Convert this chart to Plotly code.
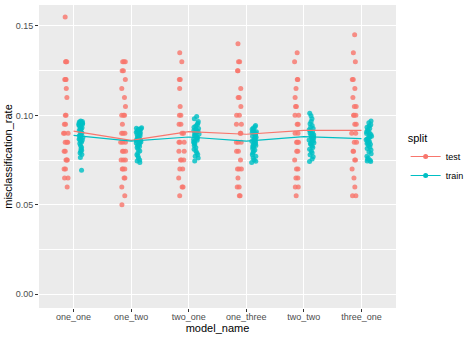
import plotly.graph_objects as go

models = ["one_one", "one_two", "two_one", "one_three", "two_two", "three_one"]

test_one_one = [0.155, 0.13, 0.13, 0.13, 0.12, 0.12, 0.12, 0.115, 0.11, 0.10, 0.10,
                0.095, 0.095, 0.09, 0.09, 0.09, 0.085, 0.085, 0.085, 0.08, 0.08,
                0.075, 0.075, 0.075, 0.07, 0.07, 0.065, 0.065, 0.06]
test_one_two = [0.13, 0.13, 0.13, 0.125, 0.125, 0.12, 0.115, 0.11, 0.105, 0.10, 0.10, 0.10,
                0.095, 0.09, 0.09, 0.09, 0.085, 0.085, 0.085, 0.08, 0.08, 0.08,
                0.075, 0.075, 0.075, 0.07, 0.07, 0.07, 0.065, 0.065, 0.06, 0.055, 0.05]
test_two_one = [0.135, 0.13, 0.12, 0.12, 0.115, 0.105, 0.10, 0.10, 0.095, 0.095,
                0.09, 0.09, 0.085, 0.085, 0.085, 0.08, 0.08, 0.075, 0.075, 0.075,
                0.07, 0.07, 0.065, 0.06, 0.06, 0.055]
test_one_three = [0.14, 0.13, 0.13, 0.125, 0.125, 0.115, 0.11, 0.11, 0.105, 0.10, 0.10,
                  0.095, 0.095, 0.09, 0.09, 0.085, 0.085, 0.085, 0.08, 0.08, 0.075,
                  0.07, 0.07, 0.07, 0.065, 0.06, 0.06, 0.055, 0.055]
test_two_two = [0.135, 0.13, 0.12, 0.12, 0.115, 0.11, 0.105, 0.105, 0.10, 0.10,
                0.095, 0.095, 0.09, 0.09, 0.085, 0.085, 0.085, 0.08, 0.08, 0.075,
                0.07, 0.07, 0.065, 0.065, 0.06, 0.06, 0.055]
test_three_one = [0.145, 0.135, 0.13, 0.12, 0.12, 0.115, 0.11, 0.105, 0.105, 0.10, 0.10, 0.10,
                  0.095, 0.095, 0.09, 0.09, 0.085, 0.085, 0.08, 0.08, 0.075, 0.075,
                  0.07, 0.065, 0.06, 0.055, 0.055]

train_one_one = [0.0968, 0.0966, 0.0963, 0.0961, 0.0959, 0.0956, 0.0953, 0.095, 0.0946, 0.094,
                 0.0936, 0.0931, 0.0927, 0.0922, 0.0917, 0.0912, 0.0906, 0.0901, 0.0896, 0.0891,
                 0.0886, 0.0881, 0.0876, 0.0871, 0.0866, 0.0861, 0.0856, 0.0851, 0.0842, 0.0832,
                 0.0822, 0.0812, 0.0805, 0.0799, 0.079, 0.0781, 0.0765, 0.0693]
train_one_two = [0.0931, 0.0928, 0.0925, 0.0922, 0.092, 0.0916, 0.0911, 0.0905, 0.0901, 0.0896,
                 0.0891, 0.0886, 0.0881, 0.0876, 0.0871, 0.0866, 0.0861, 0.0858, 0.0855, 0.0851,
                 0.0846, 0.0841, 0.0836, 0.0831, 0.0826, 0.082, 0.081, 0.0801, 0.079, 0.078,
                 0.0771, 0.0761, 0.0751, 0.0745, 0.0736]
train_two_one = [0.0993, 0.0981, 0.0966, 0.0956, 0.0949, 0.0941, 0.0933, 0.0926, 0.0921, 0.0916,
                 0.0911, 0.0906, 0.0901, 0.0896, 0.0891, 0.0886, 0.0881, 0.0876, 0.0871, 0.0866,
                 0.0861, 0.0856, 0.0851, 0.0846, 0.0841, 0.0831, 0.0821, 0.0811, 0.0801, 0.0791,
                 0.0781, 0.0771, 0.0761, 0.0745]
train_one_three = [0.0944, 0.0936, 0.0929, 0.0923, 0.0918, 0.0913, 0.0908, 0.0903, 0.0898, 0.0893,
                   0.0888, 0.0883, 0.0878, 0.0873, 0.0868, 0.0863, 0.0858, 0.0855, 0.0851, 0.0846,
                   0.0841, 0.0836, 0.0831, 0.0826, 0.0821, 0.0813, 0.0806, 0.0798, 0.0789, 0.078,
                   0.0771, 0.0761, 0.0751, 0.0743, 0.0736]
train_two_two = [0.1012, 0.0998, 0.0981, 0.0966, 0.0953, 0.0943, 0.0934, 0.0926, 0.0919, 0.0913,
                 0.0907, 0.0902, 0.0897, 0.0892, 0.0887, 0.0882, 0.0877, 0.0872, 0.0867, 0.0862,
                 0.0857, 0.0852, 0.0847, 0.0842, 0.0837, 0.0829, 0.082, 0.0811, 0.0801, 0.0791,
                 0.078, 0.0768, 0.0756, 0.0742]
train_three_one = [0.0968, 0.0958, 0.0948, 0.094, 0.0933, 0.0926, 0.092, 0.0914, 0.0908, 0.0903,
                   0.0898, 0.0893, 0.0888, 0.0883, 0.0878, 0.0873, 0.0868, 0.0863, 0.0858, 0.0853,
                   0.0848, 0.0843, 0.0838, 0.0831, 0.0823, 0.0815, 0.0806, 0.0796, 0.0785, 0.0772,
                   0.0762, 0.0755, 0.0749, 0.0745, 0.0742]

test_mean = [0.0912, 0.0860, 0.0909, 0.0894, 0.0916, 0.0916]
train_mean = [0.0888, 0.0856, 0.0879, 0.0856, 0.0881, 0.0870]

y_ticks = [0.00, 0.05, 0.10, 0.15]
y_tick_labels = ["0.00", "0.05", "0.10", "0.15"]

test_groups = [test_one_one, test_one_two, test_two_one, test_one_three, test_two_two, test_three_one]
train_groups = [train_one_one, train_one_two, train_two_one, train_one_three, train_two_two, train_three_one]

RED = "#F8766D"
TEAL = "#00BFC4"
FONT = "Liberation Sans, Arial, Helvetica, sans-serif"


def flatten(groups):
    xs, ys = [], []
    for m, vals in zip(models, groups):
        xs += [m] * len(vals)
        ys += list(vals)
    return xs, ys


fig = go.Figure()
for name, groups, col in [("test", test_groups, RED), ("train", train_groups, TEAL)]:
    xs, ys = flatten(groups)
    fig.add_trace(go.Box(
        x=xs, y=ys, name=name, boxpoints="all", jitter=0.4, pointpos=0,
        line=dict(width=0, color="rgba(0,0,0,0)"), fillcolor="rgba(0,0,0,0)",
        whiskerwidth=0,
        marker=dict(color=col, size=5, opacity=0.82, line=dict(width=0)),
        showlegend=False, offsetgroup=name,
    ))

for name, means, col in [("test", test_mean, RED), ("train", train_mean, TEAL)]:
    fig.add_trace(go.Scatter(x=models, y=means, mode="lines",
                             line=dict(color=col, width=1.1), showlegend=False,
                             hoverinfo="skip"))
    fig.add_trace(go.Scatter(x=[None], y=[None], mode="lines+markers", name=name,
                             line=dict(color=col, width=1.1),
                             marker=dict(color=col, size=5)))

fig.update_layout(
    width=474, height=338,
    margin=dict(l=39, r=63, t=5, b=30),
    paper_bgcolor="white", plot_bgcolor="#EBEBEB",
    boxmode="group", boxgap=0.48, boxgroupgap=0,
    font=dict(family=FONT, color="#4D4D4D", size=9),
    showlegend=True,
    legend=dict(x=1.027, y=0.595, xanchor="left", yanchor="top",
                title=dict(text="split", font=dict(size=11, color="black")),
                font=dict(size=9, color="black"), bgcolor="rgba(0,0,0,0)",
                itemwidth=30, tracegroupgap=0),
)
fig.update_xaxes(
    type="category", categoryorder="array", categoryarray=models,
    range=[-0.6, 5.6], showgrid=True, gridcolor="white", gridwidth=1.1,
    zeroline=False, ticks="outside", ticklen=3, tickcolor="#333333", tickwidth=1,
    tickfont=dict(size=9, color="#4D4D4D"), ticklabelstandoff=-3,
    title=dict(text="model_name", font=dict(size=11, color="black"), standoff=0),
)
fig.update_yaxes(
    range=[-0.0077, 0.1617], tickvals=y_ticks, ticktext=y_tick_labels,
    showgrid=True, gridcolor="white", gridwidth=1.1, zeroline=False,
    ticks="outside", ticklen=3, tickcolor="#333333", tickwidth=1,
    tickfont=dict(size=9, color="#4D4D4D"),
    minor=dict(tickvals=[0.025, 0.075, 0.125], showgrid=True, gridcolor="white",
               gridwidth=0.5, ticks=""),
    title=dict(text="misclassification_rate", font=dict(size=11, color="black"), standoff=0),
)

fig.write_html("out.html")
